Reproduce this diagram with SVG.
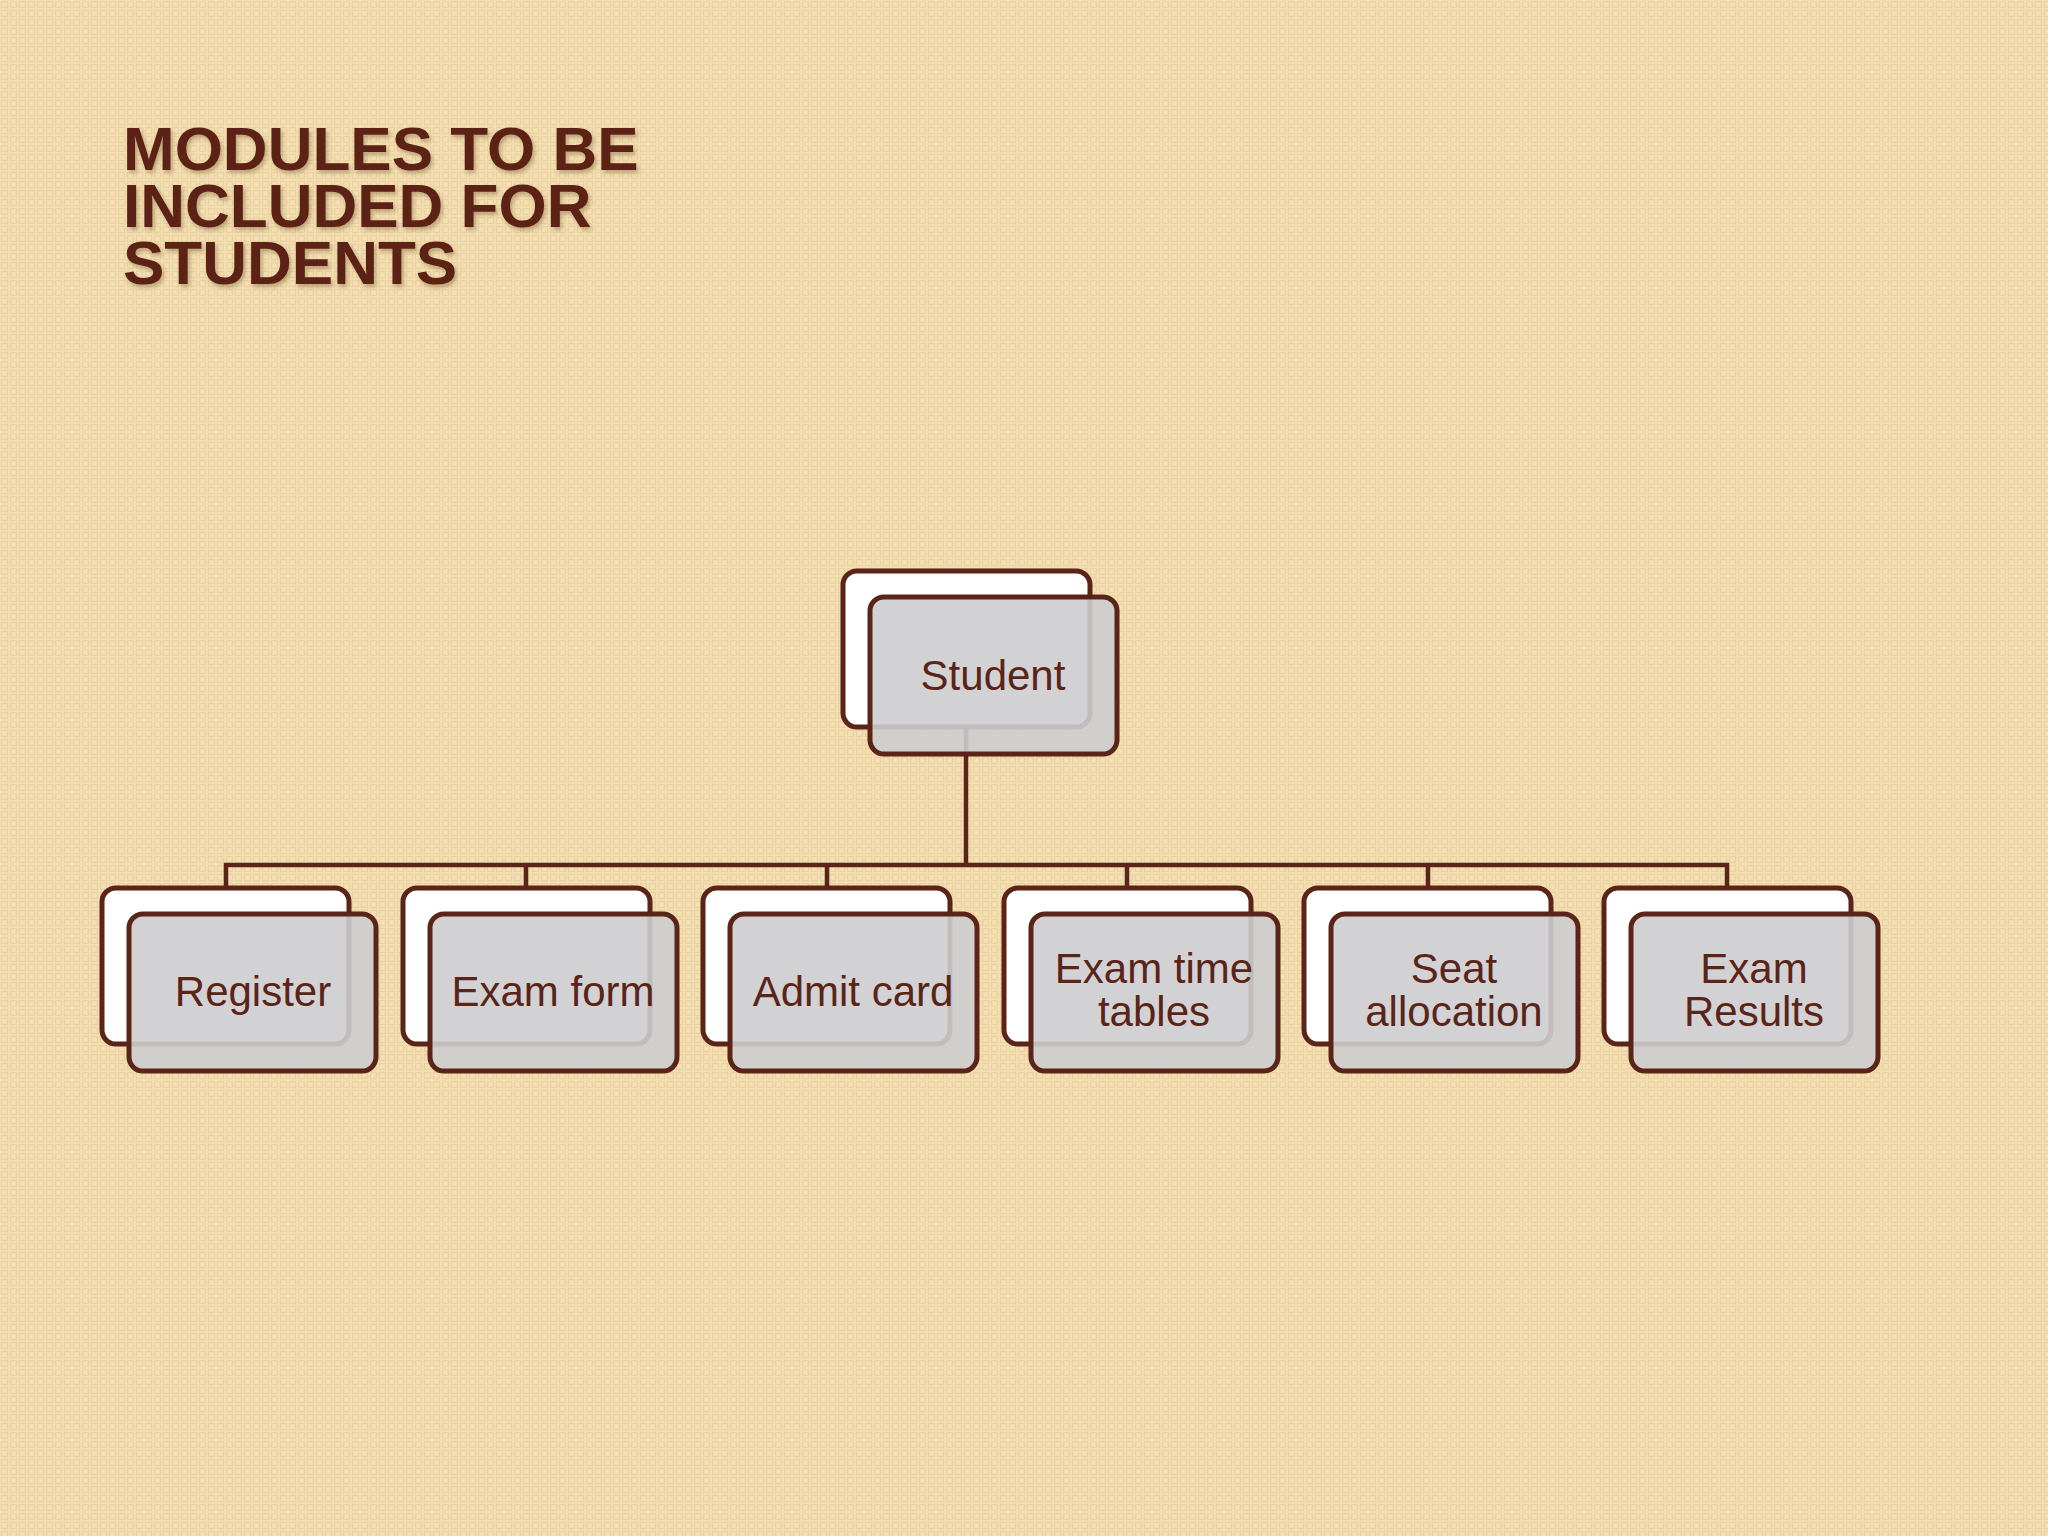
<svg xmlns="http://www.w3.org/2000/svg" width="2048" height="1536" viewBox="0 0 2048 1536">
<defs>
<pattern id="bg" width="9" height="9" patternUnits="userSpaceOnUse">
<rect width="9" height="9" fill="#f4e0b4"/>
<rect x="1.5" y="1.5" width="6" height="6" fill="none" stroke="#ead19f" stroke-width="1.3"/>
</pattern>
<filter id="sh" x="-5%" y="-5%" width="110%" height="120%">
<feDropShadow dx="2" dy="3" stdDeviation="2" flood-color="#7a5a30" flood-opacity="0.45"/>
</filter>
<style>
.back{fill:#ffffff;stroke:#5a2418;stroke-width:5}
.front{fill:#cdcdcf;fill-opacity:0.9;stroke:#5a2418;stroke-width:5}
.lbl{font-family:"Liberation Sans",Arial,sans-serif;font-size:42px;fill:#5a2418;text-anchor:middle}
.conn{fill:none;stroke:#5a2418;stroke-width:4.5}
.title{font-family:"Liberation Sans",Arial,sans-serif;font-weight:bold;font-size:62px;fill:#5c2316}
</style>
</defs>
<rect width="2048" height="1536" fill="url(#bg)"/>
<g id="title" filter="url(#sh)">
<text class="title" x="123" y="170">MODULES TO BE</text>
<text class="title" x="123" y="227">INCLUDED FOR</text>
<text class="title" x="123" y="284">STUDENTS</text>
</g>
<g id="connectors">
<path class="conn" d="M966 727 V865"/>
<path class="conn" d="M226 888 V865 H1727 V888"/>
<path class="conn" d="M526 865 V888 M827 865 V888 M1127 865 V888 M1428 865 V888"/>
</g>
<g id="student">
<rect class="back" x="843" y="571" width="247" height="156" rx="14"/>
<rect class="front" x="870" y="597" width="247" height="157" rx="14"/>
<text class="lbl" x="993" y="690">Student</text>
</g>
<g id="register">
<rect class="back" x="102" y="888" width="247" height="156" rx="14"/>
<rect class="front" x="129" y="914" width="247" height="157" rx="14"/>
<text class="lbl" x="253" y="1006">Register</text>
</g>
<g id="examform">
<rect class="back" x="403" y="888" width="247" height="156" rx="14"/>
<rect class="front" x="430" y="914" width="247" height="157" rx="14"/>
<text class="lbl" x="553" y="1006">Exam form</text>
</g>
<g id="admitcard">
<rect class="back" x="703" y="888" width="247" height="156" rx="14"/>
<rect class="front" x="730" y="914" width="247" height="157" rx="14"/>
<text class="lbl" x="853" y="1006">Admit card</text>
</g>
<g id="examtime">
<rect class="back" x="1004" y="888" width="247" height="156" rx="14"/>
<rect class="front" x="1031" y="914" width="247" height="157" rx="14"/>
<text class="lbl" x="1154" y="983">Exam time</text>
<text class="lbl" x="1154" y="1026">tables</text>
</g>
<g id="seat">
<rect class="back" x="1304" y="888" width="247" height="156" rx="14"/>
<rect class="front" x="1331" y="914" width="247" height="157" rx="14"/>
<text class="lbl" x="1454" y="983">Seat</text>
<text class="lbl" x="1454" y="1026">allocation</text>
</g>
<g id="results">
<rect class="back" x="1604" y="888" width="247" height="156" rx="14"/>
<rect class="front" x="1631" y="914" width="247" height="157" rx="14"/>
<text class="lbl" x="1754" y="983">Exam</text>
<text class="lbl" x="1754" y="1026">Results</text>
</g>
</svg>
